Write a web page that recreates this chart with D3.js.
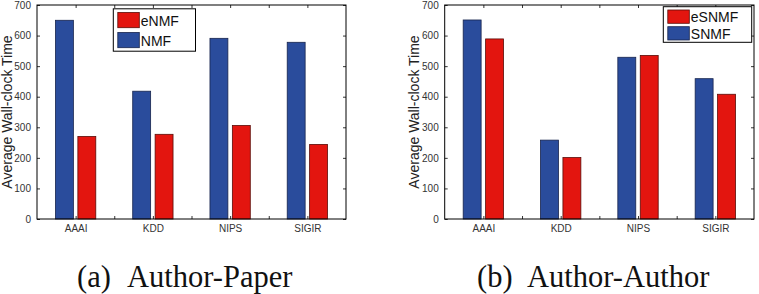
<!DOCTYPE html>
<html>
<head>
<meta charset="utf-8">
<script src="https://cdn.jsdelivr.net/npm/d3@7/dist/d3.min.js"></script>
<style>
  html, body { margin: 0; padding: 0; background: #fff; }
  svg { display: block; }
</style>
</head>
<body>
<svg id="chart" width="759" height="294"></svg>
<script>
// ---- data ----
const categories = ["AAAI", "KDD", "NIPS", "SIGIR"];
const yTicks = [0, 100, 200, 300, 400, 500, 600, 700];

// panel (a) Author-Paper
const nmfValues  = [650, 418, 591, 578];
const enmfValues = [270, 277, 306, 244];

// panel (b) Author-Author
const snmfValues  = [651, 258, 529, 459];
const esnmfValues = [589, 201, 535, 408];

const seriesNamesA = ["NMF", "eNMF"];
const seriesNamesB = ["SNMF", "eSNMF"];
const captions = [["(a)", "Author-Paper"], ["(b)", "Author-Author"]];

// ---- style ----
const BLUE = "#2a4c9c", RED = "#e3150f";
const FONT = "Liberation Sans";
const SERIF = "Liberation Serif";

const svg = d3.select("#chart");

function drawPanel(cfg) {
  const g = svg.append("g");
  const x = d3.scaleLinear().domain([0.5, categories.length + 0.5]).range([cfg.left, cfg.right]);
  const y = d3.scaleLinear().domain([0, 700]).range([cfg.bottom, cfg.top]);

  const barW = 0.232, off = 0.145;
  const series = [
    { vals: cfg.blue, color: BLUE, stroke: "#17244d", dx: -off },
    { vals: cfg.red,  color: RED,  stroke: "#5a0d08", dx: off }
  ];
  series.forEach(s => {
    g.selectAll(null).data(s.vals).enter().append("rect")
      .attr("x", (d, i) => x(i + 1 + s.dx - barW / 2))
      .attr("width", (d, i) => x(i + 1 + s.dx + barW / 2) - x(i + 1 + s.dx - barW / 2))
      .attr("y", d => y(d))
      .attr("height", d => y(0) - y(d))
      .attr("fill", s.color)
      .attr("stroke", s.stroke)
      .attr("stroke-width", 0.8);
  });

  const tickLen = 3;
  const yAxis = d3.axisLeft(y).tickValues(yTicks).tickSize(-tickLen).tickPadding(6);
  const ya = g.append("g").attr("transform", `translate(${cfg.left},0)`).call(yAxis);
  const yaR = g.append("g").attr("transform", `translate(${cfg.right},0)`)
    .call(d3.axisRight(y).tickValues(yTicks).tickSize(-tickLen).tickFormat(""));

  const xTickVals = d3.range(1, categories.length + 0.01, 0.5);
  const xAxis = d3.axisBottom(x).tickValues(xTickVals).tickSize(-tickLen).tickPadding(6)
    .tickFormat(d => Number.isInteger(d) ? categories[d - 1] : "");
  const xa = g.append("g").attr("transform", `translate(0,${cfg.bottom})`).call(xAxis);
  const xaT = g.append("g").attr("transform", `translate(0,${cfg.top})`)
    .call(d3.axisTop(x).tickValues(xTickVals).tickSize(-tickLen).tickFormat(""));

  [ya, yaR, xa, xaT].forEach(a => {
    a.select(".domain").remove();
    a.selectAll(".tick line").attr("stroke", "#000").attr("stroke-width", 0.8);
    a.selectAll(".tick text").attr("fill", "#333").style("font-family", FONT).style("font-size", "10px");
  });
  xa.selectAll(".tick text").attr("dy", "0.71em");

  g.append("rect")
    .attr("x", cfg.left).attr("y", cfg.top)
    .attr("width", cfg.right - cfg.left).attr("height", cfg.bottom - cfg.top)
    .attr("fill", "none").attr("stroke", "#000").attr("stroke-width", 1);

  g.append("text")
    .attr("transform", `translate(${cfg.left - 25.5},${(cfg.top + cfg.bottom) / 2}) rotate(-90)`)
    .attr("text-anchor", "middle")
    .style("font-family", FONT).style("font-size", "14px").attr("fill", "#222")
    .text("Average Wall-clock Time");

  const L = cfg.legend;
  g.append("rect").attr("x", L.x).attr("y", L.y).attr("width", L.w).attr("height", L.h)
    .attr("fill", "#fff").attr("stroke", "#000").attr("stroke-width", 1);
  const items = [
    { name: cfg.names[1], color: RED, stroke: "#5a0d08" },
    { name: cfg.names[0], color: BLUE, stroke: "#17244d" }
  ];
  items.forEach((it, i) => {
    const yy = L.y + L.pad + i * L.step;
    g.append("rect").attr("x", L.x + 4.5).attr("y", yy)
      .attr("width", 21.5).attr("height", L.sh)
      .attr("fill", it.color).attr("stroke", it.stroke).attr("stroke-width", 0.8);
    g.append("text").attr("x", L.x + 27.5).attr("y", yy + L.sh - 1.5)
      .style("font-family", FONT).style("font-size", "14px").attr("fill", "#111")
      .text(it.name);
  });

  const cap = g.append("text").attr("y", 287)
    .style("font-family", SERIF).style("font-size", "30.5px").attr("fill", "#111");
  cap.append("tspan").attr("x", cfg.capX).text(cfg.caption[0]);
  cap.append("tspan").attr("x", cfg.capX + 50).text(cfg.caption[1]);
}

drawPanel({
  left: 37, right: 346, top: 5, bottom: 219,
  blue: nmfValues, red: enmfValues, names: seriesNamesA,
  legend: { x: 113.3, y: 8.8, w: 82.2, h: 42.4, pad: 3.7, step: 20, sh: 15.2 },
  caption: captions[0], capX: 77
});
drawPanel({
  left: 444.7, right: 754, top: 5, bottom: 219,
  blue: snmfValues, red: esnmfValues, names: seriesNamesB,
  legend: { x: 663.3, y: 6.7, w: 88.4, h: 35.6, pad: 3.3, step: 16.7, sh: 13.3 },
  caption: captions[1], capX: 477
});
</script>
</body>
</html>
